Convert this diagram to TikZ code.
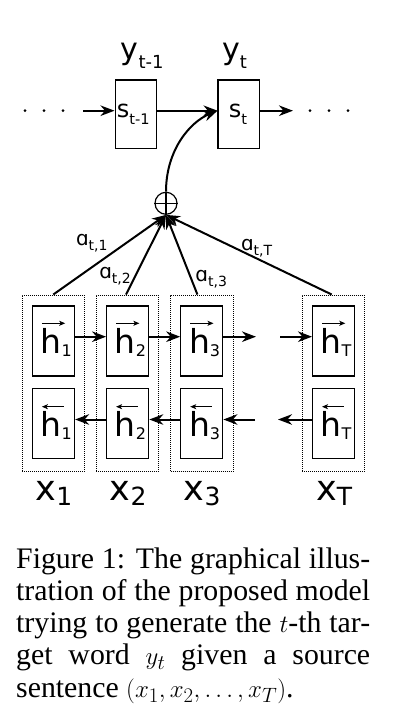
\documentclass[tikz,border=0pt]{standalone}
\usepackage{fontspec}
\setmainfont{Liberation Serif}
\newfontfamily\dv{DejaVu Sans}
\usetikzlibrary{arrows.meta,calc}
\newcommand\mylab[5]{{\fontsize{#1}{#1}\selectfont #2}\raisebox{-#5pt}{\fontsize{#3}{#3}\selectfont #4}}
\tikzset{
  conn/.style={line width=2pt, -{Stealth[length=14pt,width=10.5pt,inset=4.5pt]}},
  cell/.style={draw, line width=1.2pt, minimum width=42pt, minimum height=70pt, inner sep=0},
  sbox/.style={draw, line width=1.2pt, minimum width=41.5pt, minimum height=68.3pt, inner sep=0},
  grp/.style={draw, densely dotted, line width=1pt, minimum width=62.5pt, minimum height=176pt, inner sep=0},
  lbl/.style={inner sep=0, anchor=base west, font=\dv},
  xlbl/.style={inner sep=0, anchor=base, font=\dv},
  vec/.style={line width=0.9pt, -{Stealth[length=6pt,width=5pt,inset=1.5pt]}},
  dotm/.style={circle, fill, inner sep=0, minimum size=3pt},
  capline/.style={inner sep=0, anchor=base west, font=\fontsize{29.8}{32}\selectfont},
}
\begin{document}
\begin{tikzpicture}[x=1pt,y=-1pt]
\useasboundingbox[fill=white] (0,0) rectangle (416,720);

% decoder states
\node[sbox] (sa) at (135.85,114.15) {};
\node[sbox] (st) at (238.8,114.15) {};
\node[lbl] (sal) at (116.7,117.3) {\mylab{24}{s}{14.6}{t-1}{6.7}};
\node[lbl] (stl) at (228.7,117.3) {\mylab{24}{s}{14.6}{t}{6.7}};
\node[lbl] (ya) at (120.7,59.7) {\mylab{30}{y}{18}{t-1}{8.5}};
\node[lbl] (yt) at (222,59.7) {\mylab{30}{y}{18}{t}{8.5}};

% dots
\node[dotm] (dl1) at (25,110.7) {};
\node[dotm] (dl2) at (44,110.7) {};
\node[dotm] (dl3) at (63,110.7) {};
\node[dotm] (dr1) at (310,110.7) {};
\node[dotm] (dr2) at (329,110.7) {};
\node[dotm] (dr3) at (348,110.7) {};
\coordinate (lin) at (83,110.7);
\coordinate (rout) at (293,110.7);

\draw[conn] (lin) -- ([yshift=3.45pt]sa.west);
\draw[conn] ([yshift=3.45pt]sa.east) -- ([yshift=3.45pt]st.west);
\draw[conn] ([yshift=3.45pt]st.east) -- (rout);

% sum node
\node[circle, draw, line width=1.2pt, minimum size=22pt, inner sep=0] (sum) at (166,203.3) {};
\draw[line width=1.5pt] (sum.north) -- (sum.south) (sum.west) -- (sum.east);
\draw[conn] (sum.north) .. controls (166,150) and (190,122) .. ([yshift=3.45pt]st.west);

% encoder columns
\foreach \n/\cx in {1/53.5,2/127.7,3/201.8,T/333.6}{
  \node[grp] (g\n) at (\cx,383) {};
  \node[cell] (f\n) at (\cx,341) {};
  \node[cell] (b\n) at (\cx,423.3) {};
  \node[lbl] (fl\n) at ($(f\n.center)+(-13,12.3)$) {\mylab{33}{h}{16}{\n}{3.4}};
  \node[lbl] (bl\n) at ($(b\n.center)+(-13,12.7)$) {\mylab{33}{h}{16}{\n}{3.4}};
  \draw[vec] ($(f\n.center)+(-11.6,-17.7)$) -- ($(f\n.center)+(11.7,-17.7)$);
  \draw[vec] ($(b\n.center)+(10,-16.6)$) -- ($(b\n.center)+(-11.6,-16.6)$);
  \node[xlbl] (x\n) at ($(g\n.center)+(0.5,117.7)$) {\mylab{35}{x}{25}{\n}{4.3}};
}

% forward chain
\coordinate (fo) at (256,336.7);
\coordinate (fi) at (280,336.7);
\draw[conn] ([yshift=4.3pt]f1.east) -- ([yshift=4.3pt]f2.west);
\draw[conn] ([yshift=4.3pt]f2.east) -- ([yshift=4.3pt]f3.west);
\draw[conn] ([yshift=4.3pt]f3.east) -- (fo);
\draw[conn] (fi) -- ([yshift=4.3pt]fT.west);

% backward chain
\coordinate (bi) at (255,419.5);
\coordinate (bo) at (278,419.5);
\draw[conn] ([yshift=3.8pt]b2.west) -- ([yshift=3.8pt]b1.east);
\draw[conn] ([yshift=3.8pt]b3.west) -- ([yshift=3.8pt]b2.east);
\draw[conn] (bi) -- ([yshift=3.8pt]b3.east);
\draw[conn] ([yshift=3.8pt]bT.west) -- (bo);

% attention fan-in
\draw[conn] ([xshift=-0.2pt]g1.north) -- (sum.south);
\draw[conn] ([xshift=-1.7pt]g2.north) -- (sum.south);
\draw[conn] ([xshift=-4.4pt]g3.north) -- (sum.south);
\draw[conn] ([xshift=-1.9pt]gT.north) -- (sum.south);
\node[lbl] (a1) at (75.8,245) {\mylab{20}{ɑ}{14}{t,1}{5}};
\node[lbl] (a2) at (99.1,278.3) {\mylab{20}{ɑ}{14}{t,2}{5}};
\node[lbl] (a3) at (195.2,281.7) {\mylab{20}{ɑ}{14}{t,3}{5}};
\node[lbl] (aT) at (240.8,250) {\mylab{20}{ɑ}{14}{t,T}{5}};

% caption
\node[capline] (c1) at (16,568) {\hbox to 354pt{Figure 1: The graphical illus-}};
\node[capline] (c2) at (16,600.3) {\hbox to 354pt{tration of the proposed model}};
\node[capline] (c3) at (16,632.6) {\hbox to 354pt{trying to generate the $t$-th tar-}};
\node[capline] (c4) at (16,664.9) {\hbox to 354pt{get word $y_t$ given a source}};
\node[capline] (c5) at (16,697.2) {sentence $(x_1, x_2, \ldots, x_T)$.};
\end{tikzpicture}
\end{document}
